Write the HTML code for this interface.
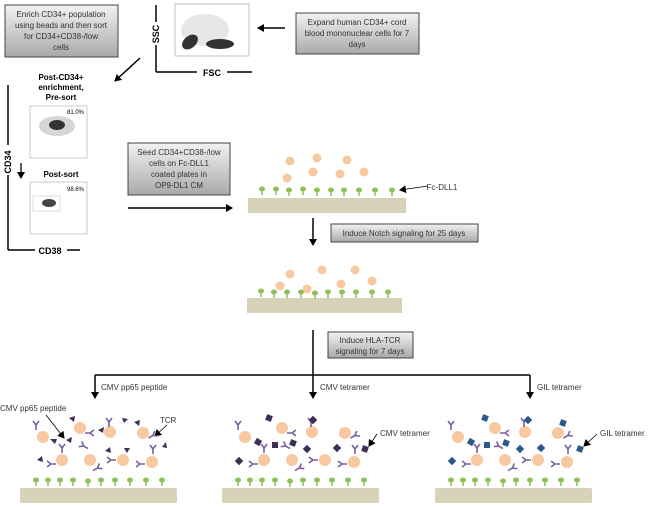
<!DOCTYPE html>
<html><head><meta charset="utf-8"><style>
body{margin:0;background:#fff;}
svg{display:block;font-family:"Liberation Sans",sans-serif;}
</style></head><body>
<svg width="650" height="507" viewBox="0 0 650 507" xmlns="http://www.w3.org/2000/svg">
<defs>
<linearGradient id="g" x1="0" y1="0" x2="0" y2="1"><stop offset="0" stop-color="#f2f2f2"/><stop offset="1" stop-color="#a9a9a9"/></linearGradient>
<marker id="a" markerWidth="8" markerHeight="8" refX="6" refY="4" orient="auto" markerUnits="userSpaceOnUse"><path d="M0,0 L7,4 L0,8 Z" fill="#000"/></marker>
<g id="st"><line x1="0" y1="0" x2="0" y2="6" stroke="#8fc05a" stroke-width="1.5"/><ellipse cx="0" cy="0" rx="3" ry="2.5" fill="#8fc05a"/></g>
<g id="ab" fill="none" stroke="#7a5fa0" stroke-width="1.6"><path d="M0,0 L0,-5 M0,-5 L-3,-9 M0,-5 L3,-9"/></g>
</defs>
<g font-size="8" text-anchor="middle" fill="#333">
<rect x="5" y="5" width="113" height="52" fill="url(#g)" stroke="#444"/>
<text x="61" y="17">Enrich CD34+ population</text><text x="61" y="28">using beads and then sort</text><text x="61" y="39">for CD34+CD38-/low</text><text x="61" y="50">cells</text>
<rect x="296" y="13" width="123" height="41" fill="url(#g)" stroke="#444"/>
<text x="357" y="25">Expand human CD34+ cord</text><text x="357" y="36">blood mononuclear cells for 7</text><text x="357" y="47">days</text>
<rect x="128" y="143" width="102" height="52" fill="url(#g)" stroke="#444"/>
<text x="179" y="155">Seed CD34+CD38-/low</text><text x="179" y="166">cells on Fc-DLL1</text><text x="179" y="177">coated plates in</text><text x="179" y="188">OP9-DL1 CM</text>
<rect x="331" y="224" width="147" height="18" fill="url(#g)" stroke="#444"/>
<text x="404" y="236">Induce Notch signaling for 25 days</text>
<rect x="328" y="332" width="85" height="26" fill="url(#g)" stroke="#444"/>
<text x="370" y="343">Induce HLA-TCR</text><text x="370" y="354">signaling for 7 days</text>
</g>
<!-- scatter plot -->
<rect x="175" y="4" width="74" height="52" fill="#fff" stroke="#999" stroke-width="0.6"/>
<ellipse cx="205" cy="30" rx="24" ry="16" fill="#bbb" opacity="0.35"/>
<ellipse cx="190" cy="42" rx="9" ry="6" fill="#333" transform="rotate(-40 190 42)"/>
<ellipse cx="220" cy="44" rx="14" ry="5" fill="#333"/>
<line x1="156" y1="5" x2="156" y2="22" stroke="#000" stroke-width="1.5"/>
<line x1="156" y1="45" x2="156" y2="72" stroke="#000" stroke-width="1.5"/>
<line x1="156" y1="72" x2="197" y2="72" stroke="#000" stroke-width="1.5"/>
<line x1="227" y1="72" x2="252" y2="72" stroke="#000" stroke-width="1.5"/>
<text x="159" y="34" font-size="9" font-weight="bold" transform="rotate(-90 159 34)" text-anchor="middle">SSC</text>
<text x="212" y="76" font-size="9" font-weight="bold" text-anchor="middle">FSC</text>
<line x1="285" y1="28" x2="258" y2="28" stroke="#000" stroke-width="1.5" marker-end="url(#a)"/>
<line x1="140" y1="58" x2="115" y2="81" stroke="#000" stroke-width="1.5" marker-end="url(#a)"/>
<!-- left panel -->
<g font-size="8" font-weight="bold" text-anchor="middle">
<text x="61" y="80">Post-CD34+</text><text x="61" y="90">enrichment,</text><text x="61" y="100">Pre-sort</text>
<text x="61" y="177">Post-sort</text>
<text x="50" y="254" font-size="9">CD38</text>
<text x="11" y="162" font-size="9" transform="rotate(-90 11 162)">CD34</text>
</g>
<line x1="8" y1="85" x2="8" y2="145" stroke="#000" stroke-width="1.5"/>
<line x1="8" y1="175" x2="8" y2="250" stroke="#000" stroke-width="1.5"/>
<line x1="8" y1="250" x2="35" y2="250" stroke="#000" stroke-width="1.5"/>
<line x1="67" y1="250" x2="80" y2="250" stroke="#000" stroke-width="1.5"/>
<rect x="30" y="106" width="57" height="52" fill="#fff" stroke="#aaa" stroke-width="0.6"/>
<ellipse cx="57" cy="126" rx="18" ry="10" fill="#999" opacity="0.4"/>
<ellipse cx="57" cy="125" rx="8" ry="5" fill="#333"/>
<text x="84" y="114" font-size="6" text-anchor="end">81.0%</text>
<rect x="30" y="182" width="57" height="52" fill="#fff" stroke="#aaa" stroke-width="0.6"/>
<rect x="33" y="196" width="27" height="15" fill="none" stroke="#bbb" stroke-width="0.5"/>
<ellipse cx="49" cy="203" rx="7" ry="4" fill="#444"/>
<text x="84" y="191" font-size="6" text-anchor="end">98.6%</text>
<line x1="21" y1="163" x2="21" y2="178" stroke="#000" stroke-width="1.3" marker-end="url(#a)"/>
<!-- plate 1 -->
<line x1="128" y1="208" x2="232" y2="208" stroke="#000" stroke-width="1.5" marker-end="url(#a)"/>
<rect x="248" y="198" width="158" height="15" fill="#d6d3b8"/>
<g fill="#f8c9a0">
<circle cx="290" cy="161" r="4.5"/><circle cx="317" cy="158" r="4.5"/><circle cx="347" cy="160" r="4.5"/>
<circle cx="287" cy="178" r="4.5"/><circle cx="313" cy="172" r="4.5"/><circle cx="340" cy="174" r="4.5"/><circle cx="364" cy="172" r="4.5"/>
</g>
<g><use href="#st" x="262" y="189"/><use href="#st" x="276" y="189"/><use href="#st" x="289" y="190"/><use href="#st" x="303" y="189"/><use href="#st" x="317" y="190"/><use href="#st" x="331" y="190"/><use href="#st" x="344" y="190"/><use href="#st" x="359" y="190"/><use href="#st" x="375" y="190"/><use href="#st" x="392" y="190"/></g>
<text x="442" y="190" font-size="8" fill="#333" text-anchor="middle">Fc-DLL1</text>
<line x1="428" y1="186" x2="400" y2="190" stroke="#000" stroke-width="0.8" marker-end="url(#a)"/>
<line x1="313" y1="218" x2="313" y2="245" stroke="#000" stroke-width="1.5" marker-end="url(#a)"/>
<!-- plate 2 -->
<rect x="247" y="298" width="155" height="15" fill="#d6d3b8"/>
<g fill="#f8c9a0">
<circle cx="290" cy="274" r="4.5"/><circle cx="322" cy="270" r="4.5"/><circle cx="355" cy="270" r="4.5"/>
<circle cx="280" cy="286" r="4.5"/><circle cx="307" cy="289" r="4.5"/><circle cx="341" cy="284" r="4.5"/><circle cx="372" cy="281" r="4.5"/>
</g>
<g><use href="#st" x="261" y="291"/><use href="#st" x="274" y="292"/><use href="#st" x="287" y="292"/><use href="#st" x="301" y="292"/><use href="#st" x="315" y="293"/><use href="#st" x="328" y="292"/><use href="#st" x="342" y="292"/><use href="#st" x="356" y="292"/><use href="#st" x="372" y="292"/><use href="#st" x="388" y="292"/></g>
<!-- branching -->
<line x1="313" y1="330" x2="313" y2="398" stroke="#000" stroke-width="1.5" marker-end="url(#a)"/>
<line x1="95" y1="375" x2="530" y2="375" stroke="#000" stroke-width="1.5"/>
<line x1="95" y1="375" x2="95" y2="398" stroke="#000" stroke-width="1.5" marker-end="url(#a)"/>
<line x1="530" y1="375" x2="530" y2="398" stroke="#000" stroke-width="1.5" marker-end="url(#a)"/>
<g font-size="8" fill="#333">
<text x="101" y="390">CMV pp65 peptide</text>
<text x="320" y="390">CMV tetramer</text>
<text x="537" y="390">GIL tetramer</text>
<text x="0" y="411">CMV pp65 peptide</text>
<text x="160" y="423">TCR</text>
<text x="380" y="436">CMV tetramer</text>
<text x="600" y="436">GIL tetramer</text>
</g>
<line x1="46" y1="415" x2="64" y2="438" stroke="#000" stroke-width="0.8" marker-end="url(#a)"/>
<line x1="167" y1="425" x2="155" y2="436" stroke="#000" stroke-width="0.8" marker-end="url(#a)"/>
<line x1="377" y1="433" x2="370" y2="446" stroke="#000" stroke-width="0" />
<line x1="377" y1="434" x2="369" y2="446" stroke="#000" stroke-width="0.8" marker-end="url(#a)" transform="translate(0,0)"/>
<line x1="597" y1="434" x2="584" y2="446" stroke="#000" stroke-width="0.8" marker-end="url(#a)"/>
<!-- bottom panel template -->
<g id="bp">
<rect x="20" y="488" width="157" height="15" rx="2" fill="#d6d3b8"/>
<use href="#st" x="36" y="480"/><use href="#st" x="48" y="480"/><use href="#st" x="60" y="480"/><use href="#st" x="73" y="480"/><use href="#st" x="88" y="481"/><use href="#st" x="101" y="480"/><use href="#st" x="115" y="480"/><use href="#st" x="130" y="480"/><use href="#st" x="146" y="480"/><use href="#st" x="162" y="480"/>
<g fill="#f8c9a0">
<circle cx="43" cy="437" r="6"/><circle cx="80" cy="428" r="6"/><circle cx="110" cy="432" r="6"/><circle cx="143" cy="433" r="6"/>
<circle cx="62" cy="460" r="6"/><circle cx="90" cy="460" r="6"/><circle cx="123" cy="460" r="6"/><circle cx="152" cy="462" r="6"/>
</g>
<use href="#ab" x="36" y="430"/><use href="#ab" x="89" y="437" transform="rotate(90 89 433)"/><use href="#ab" x="109" y="427"/><use href="#ab" x="152" y="440" transform="rotate(60 152 436)"/><use href="#ab" x="62" y="453"/><use href="#ab" x="50" y="462" transform="rotate(-90 54 460)"/><use href="#ab" x="98" y="470" transform="rotate(60 95 466)"/><use href="#ab" x="113" y="463" transform="rotate(-90 113 460)"/><use href="#ab" x="153" y="454"/><use href="#ab" x="140" y="465" transform="rotate(-90 142 462)"/><use href="#ab" x="90" y="452" transform="rotate(-60 86 452)"/>
</g>
<g fill="#3d2f55">
<path d="M69,418 l6,-2 l-1,6z"/><path d="M98,430 l6,-3 l-1,6z"/><path d="M122,418 l6,1 l-4,4z"/><path d="M134,422 l6,-2 l-1,6z"/><path d="M50,439 l7,0 l-2,5z"/><path d="M66,440 l6,-3 l-1,6z"/><path d="M105,451 l5,-4 l1,6z"/><path d="M124,448 l6,0 l-3,5z"/><path d="M162,447 l4,-5 l1,6z"/><path d="M37,460 l5,-4 l1,6z"/>
</g>
<use href="#bp" x="202" y="0"/>
<use href="#bp" x="415" y="0"/>
<g fill="#3d2f55">
<rect x="266" y="415" width="6" height="6" transform="rotate(20 269 418)"/><rect x="310" y="417" width="6" height="6" transform="rotate(45 313 420)"/><rect x="255" y="439" width="6" height="6" transform="rotate(30 258 442)"/><rect x="272" y="442" width="6" height="6"/><rect x="290" y="440" width="6" height="6" transform="rotate(20 293 443)"/><rect x="304" y="446" width="6" height="6" transform="rotate(45 307 449)"/><rect x="236" y="458" width="6" height="6" transform="rotate(45 239 461)"/><rect x="334" y="445" width="6" height="6" transform="rotate(45 337 448)"/><rect x="362" y="446" width="6" height="6" transform="rotate(20 365 449)"/>
</g>
<g fill="#2c5a88">
<rect x="482" y="415" width="6" height="6" transform="rotate(20 485 418)"/><rect x="525" y="417" width="6" height="6" transform="rotate(45 528 420)"/><rect x="560" y="420" width="6" height="6" transform="rotate(20 563 423)"/><rect x="468" y="439" width="6" height="6" transform="rotate(30 471 442)"/><rect x="484" y="442" width="6" height="6"/><rect x="503" y="440" width="6" height="6" transform="rotate(20 506 443)"/><rect x="517" y="446" width="6" height="6" transform="rotate(45 520 449)"/><rect x="449" y="458" width="6" height="6" transform="rotate(45 452 461)"/><rect x="538" y="445" width="6" height="6" transform="rotate(45 541 448)"/><rect x="577" y="446" width="6" height="6" transform="rotate(20 580 449)"/>
</g>
</svg>
</body></html>
